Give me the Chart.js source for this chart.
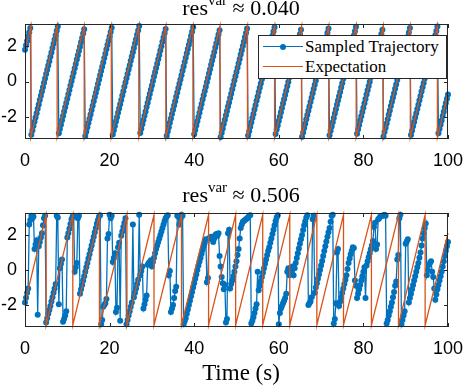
<!DOCTYPE html>
<html>
<head>
<meta charset="utf-8">
<script src="https://cdn.jsdelivr.net/npm/chart.js@4.4.1/dist/chart.umd.min.js"></script>
<style>
  body { margin: 0; background: #fff; width: 474px; height: 388px; position: relative; overflow: hidden; }
  canvas { position: absolute; left: 0; }
  .ttl { position: absolute; left: 0; width: 482px; text-align: center; font-family: "Liberation Serif", serif;
         font-size: 22px; line-height: 22px; color: #000; white-space: nowrap; }
  .ttl sup { font-size: 15px; line-height: 0; position: relative; top: -2px; }
  #xlabel { font-size: 23px; }
  #legend { position: absolute; left: 258px; top: 35px; width: 187px; height: 42px; background: #fff;
            border: 1px solid #262626; font-family: "Liberation Serif", serif; font-size: 17px; color: #000; }
  .row { position: absolute; left: 0; height: 20px; width: 100%; }
  .row span { position: absolute; left: 46px; top: 0px; line-height: 20px; white-space: nowrap; }
  .swatch { position: absolute; left: 4px; top: 9px; width: 40px; height: 1.4px; }
  .dot { position: absolute; left: 21px; top: 7px; width: 6px; height: 6px; border-radius: 50%; background: #0072BD; }
</style>
</head>
<body>
<canvas id="topChart" width="474" height="180" style="top:0"></canvas>
<canvas id="bottomChart" width="474" height="208" style="top:180px"></canvas>

<div class="ttl" style="top:-3px">res<sup>var</sup> &asymp; 0.040</div>
<div class="ttl" style="top:184px">res<sup>var</sup> &asymp; 0.506</div>
<div class="ttl" id="xlabel" style="top:362px">Time (s)</div>

<div id="legend">
  <div class="row" style="top:1px"><div class="swatch" style="background:#0072BD"></div><div class="dot"></div><span>Sampled Trajectory</span></div>
  <div class="row" style="top:21px"><div class="swatch" style="background:#D95319"></div><span>Expectation</span></div>
</div>

<script>
const xTicks = [0, 20, 40, 60, 80, 100];
const yTicks = [-2, 0, 2];
const dt = 0.25;   // sampling step of the trajectories (s)

// sampled phase, top panel (t = 0, 0.25, ... 100)
const topSampled = [
  1.80, 2.05, 2.29, 2.54, 2.78, 3.03,
  -3.01, -2.77, -2.52, -2.28, -2.03, -1.79, -1.54, -1.30, -1.05, -0.81, -0.56, -0.32, -0.07,
  0.17, 0.42, 0.66, 0.91, 1.15, 1.40, 1.64, 1.89, 2.13, 2.38, 2.62, 2.87, 3.11,
  -2.93, -2.68, -2.44, -2.19, -1.95, -1.70, -1.46, -1.21, -0.97, -0.72, -0.48, -0.23,
  0.01, 0.26, 0.50, 0.75, 0.99, 1.24, 1.48, 1.73, 1.97, 2.22, 2.46, 2.71, 2.95,
  -3.08, -2.84, -2.59, -2.35, -2.10, -1.86, -1.61, -1.37, -1.12, -0.88, -0.63, -0.39, -0.14,
  0.10, 0.35, 0.59, 0.84, 1.08, 1.33, 1.57, 1.82, 2.06, 2.31, 2.55, 2.80, 3.04,
  -3.00, -2.75, -2.51, -2.26, -2.02, -1.77, -1.53, -1.28, -1.04, -0.79, -0.55, -0.30, -0.06,
  0.19, 0.43, 0.68, 0.92, 1.17, 1.41, 1.66, 1.90, 2.15, 2.39, 2.64, 2.88, 3.13,
  -2.91, -2.67, -2.42, -2.18, -1.93, -1.69, -1.44, -1.20, -0.95, -0.71, -0.46, -0.22,
  0.03, 0.28, 0.52, 0.77, 1.01, 1.26, 1.50, 1.75, 1.99, 2.24, 2.48, 2.73, 2.97,
  -3.07, -2.82, -2.58, -2.33, -2.09, -1.84, -1.60, -1.35, -1.11, -0.86, -0.62, -0.37, -0.13,
  0.12, 0.36, 0.61, 0.85, 1.10, 1.34, 1.59, 1.83, 2.08, 2.32, 2.57, 2.81, 3.06,
  -2.98, -2.74, -2.49, -2.25, -2.00, -1.76, -1.51, -1.27, -1.02, -0.78, -0.53, -0.29, -0.04,
  0.20, 0.45, 0.69, 0.94, 1.18, 1.43, 1.67, 1.92, 2.16, 2.41, 2.65, 2.90,
  -3.14, -2.89, -2.65, -2.40, -2.16, -1.91, -1.67, -1.42, -1.18, -0.93, -0.69, -0.44, -0.20,
  0.05, 0.29, 0.54, 0.78, 1.03, 1.27, 1.52, 1.76, 2.01, 2.25, 2.50, 2.74, 2.99,
  -3.05, -2.81, -2.56, -2.32, -2.07, -1.83, -1.58, -1.34, -1.09, -0.85, -0.60, -0.36, -0.11,
  0.13, 0.38, 0.62, 0.87, 1.11, 1.36, 1.60, 1.85, 2.09, 2.34, 2.58, 2.83, 3.07,
  -2.97, -2.72, -2.48, -2.23, -1.99, -1.74, -1.50, -1.25, -1.01, -0.76, -0.52, -0.27, -0.03,
  0.22, 0.47, 0.71, 0.96, 1.20, 1.45, 1.69, 1.94, 2.18, 2.43, 2.67, 2.92,
  -3.12, -2.88, -2.63, -2.39, -2.14, -1.90, -1.65, -1.41, -1.16, -0.92, -0.67, -0.43, -0.18,
  0.06, 0.31, 0.55, 0.80, 1.04, 1.29, 1.53, 1.78, 2.02, 2.27, 2.51, 2.76, 3.00,
  -3.04, -2.79, -2.55, -2.30, -2.06, -1.81, -1.57, -1.32, -1.08, -0.83, -0.59, -0.34, -0.10,
  0.15, 0.39, 0.64, 0.88, 1.13, 1.37, 1.62, 1.86, 2.11, 2.35, 2.60, 2.84, 3.09,
  -2.95, -2.70, -2.46, -2.21, -1.97, -1.72, -1.48, -1.23, -0.99, -0.74, -0.50, -0.25, -0.01,
  0.24, 0.48, 0.73, 0.97, 1.22, 1.46, 1.71, 1.95, 2.20, 2.44, 2.69, 2.93,
  -3.11, -2.86, -2.62, -2.37, -2.13, -1.88, -1.64, -1.39, -1.15, -0.90, -0.66, -0.41, -0.17,
  0.08, 0.32, 0.57, 0.81, 1.06, 1.30, 1.55, 1.79, 2.04, 2.28, 2.53, 2.77, 3.02,
  -3.02, -2.78, -2.53, -2.29, -2.04, -1.80, -1.55, -1.31, -1.06, -0.82, -0.57, -0.33, -0.08,
  0.17, 0.41, 0.66, 0.90, 1.15, 1.39, 1.64, 1.88, 2.13, 2.37, 2.62, 2.86, 3.11,
  -2.93, -2.69, -2.44, -2.20, -1.95, -1.71, -1.46, -1.22, -0.97, -0.73
];

// sampled phase, bottom panel
const bottomSampled = [
  -1.85, -1.58, -1.30, -1.05, 2.60, 2.85, 3.10, 2.95, 3.05, 1.20,
  1.45, 1.70, -2.55, 1.35, 1.60, 1.85, 2.10, 2.55, 2.95, 3.10,
  -3.00, -2.75, -2.50, -2.28, -2.05, -1.80, -1.55, -1.30, -1.05, -0.80,
  3.10, 3.00, -1.95, 0.10, 0.35, 0.60, -2.95, -2.78, -2.60, -2.35,
  1.85, 2.10, 2.35, 2.62, 2.90, 3.05, 3.10, -0.10, 0.15, 0.40,
  2.95, 3.10, -1.35, -1.10, -0.85, -0.60, -0.35, -0.10, 0.15, 0.40,
  0.65, 0.90, 1.15, 1.40, 1.65, 1.90, 2.15, 2.40, 2.65, 2.85,
  3.05, 3.12, -3.10, -2.85, -2.10, -2.00, -1.90, -1.65, 1.80, 2.05,
  3.15, 2.95, 3.10, 0.45, 0.70, 0.95, -2.40, -2.15, 1.30, 1.55,
  -2.90, 1.95, 2.20, 2.45, 2.70, 2.95, -3.10, -2.85, -2.60, -2.35,
  -2.10, -1.85, 2.60, -1.55, -1.30, -1.05, -0.80, -0.55, 3.15, -0.30,
  -0.05, 0.20, -2.20, -1.95, -1.70, -1.45, 0.30, 0.40, 0.45, 0.55,
  0.20, 0.45, 0.70, 0.95, 1.20, 1.40, 1.60, 1.80, 2.00, 2.20,
  2.40, 2.60, 2.80, 2.95, 3.05, 3.12, -0.30, -0.05, -2.40, -2.20,
  -2.00, -1.60, -1.20, -0.95, 3.10, 3.05, 2.60, 2.90, 3.15, 3.10,
  -3.10, -2.92, -2.75, -2.50, -2.25, -2.00, -1.75, -1.50, -1.25, -1.00,
  -0.75, -0.50, -0.25, 0.00, 0.25, 0.48, 0.70, 0.92, 1.15, 1.35,
  1.55, 1.75, -0.70, -0.45, 1.80, 1.85, 1.90, 1.75, 1.60, 1.80,
  2.00, 2.05, 1.95, 2.10, 0.80, 0.20, -0.40, -0.75, -1.10, -0.85,
  -3.00, -2.80, 2.10, 2.30, -1.05, -0.80, -0.60, -0.35, -0.10, 0.20,
  0.50, 0.85, 1.20, 1.80, 2.40, 2.60, 2.75, 2.80, 2.85, 2.90,
  2.95, 3.00, 3.10, 3.12, -3.05, -2.90, -2.70, -2.45, -2.20, -1.95,
  -0.10, -1.15, -0.90, -0.65, -0.40, -0.15, 0.10, 0.35, 0.60, 0.85,
  1.10, 1.30, 1.55, 1.80, 2.05, 2.30, 2.55, 2.80, 3.00, 3.12,
  -3.10, -2.45, -2.20, -2.05, -1.90, -1.75, -1.60, -1.35, -0.10, 0.10,
  -0.30, -0.10, 0.00, 0.20, -0.30, 0.10, 0.40, 0.68, 0.95, 1.22,
  1.50, 1.75, 2.00, 2.28, 2.55, 2.78, 3.00, 3.12, -2.00, -1.90,
  -1.80, -1.55, 2.90, 3.10, -1.30, -1.00, -0.75, -0.50, -0.25, 0.00,
  0.25, 0.52, 0.80, 1.08, 1.35, 1.62, 1.90, 2.15, 2.40, 2.75,
  3.10, 3.15, -3.05, -2.80, -1.90, 1.00, 1.20, -2.05, -1.80, -1.55,
  -1.30, -1.05, -0.80, -0.55, -0.30, 0.05, 0.40, 0.65, 0.90, 1.10,
  1.30, 1.25, -0.60, -0.90, -1.60, -1.35, -1.10, -0.85, -0.60, -0.35,
  -0.10, 0.15, -1.60, 0.25, 0.50, 0.72, 0.95, 1.18, 1.40, 1.65,
  2.45, 2.70, 1.20, 1.45, 2.90, 2.95, 3.05, 3.08, 3.10, 3.12,
  3.15, 3.10, -3.05, -2.85, -2.60, -2.35, -2.10, -1.85, -1.55, -1.25,
  -0.90, -0.65, 0.60, 0.85, 2.95, 3.15, -3.10, -2.85, -2.60, -2.35,
  1.50, 1.62, 1.75, -1.85, -1.60, -1.35, -1.10, -0.85, -0.60, -0.35,
  -0.10, 0.15, 0.40, 0.70, 1.00, 1.40, 1.80, 2.10, 2.40, 2.65,
  -0.30, 0.00, 0.30, 0.40, 0.50, -0.10, -0.40, -1.05, -1.70, -1.40,
  -1.10, -0.85, -0.60, -0.35, -0.10, 0.20, 0.50, 0.80, 1.10, 1.35,
  1.60
];

// expectation: value at t=0, times where it wraps from +pi to -pi, value at t=100
const topExpStart = 1.77;
const topExpWraps = [1.4, 7.6, 14.0, 20.4, 26.9, 33.3, 39.7, 46.1, 52.6, 59.0, 65.4, 71.8, 78.3, 84.7, 91.1, 97.5];
const topExpEnd = -0.69;

const bottomExpStart = -1.87;
const bottomExpWraps = [5.0, 11.3, 17.6, 24.1, 30.5, 37.0, 43.4, 49.8, 56.2, 62.6, 69.0, 75.3, 81.9, 88.3, 94.6];
const bottomExpEnd = 2.1;

const BLUE = '#0072BD';
const ORANGE = '#D95319';
const AXIS = '#262626';

function expectationPoints(start, wraps, end) {
  const pts = [{ x: 0, y: start }];
  wraps.forEach(t => {
    pts.push({ x: t, y: Math.PI });
    pts.push({ x: t, y: -Math.PI });
  });
  pts.push({ x: 100, y: end });
  return pts;
}

// box with inward ticks on all four sides, like the matlab axes
const boxPlugin = {
  id: 'box',
  afterDatasetsDraw(chart) {
    const { ctx, chartArea: a, scales: { x, y } } = chart;
    ctx.save();
    ctx.strokeStyle = AXIS;
    ctx.lineWidth = 1;
    ctx.beginPath();
    xTicks.forEach(v => {
      const px = Math.round(x.getPixelForValue(v)) + 0.5;
      ctx.moveTo(px, a.bottom); ctx.lineTo(px, a.bottom - 4);
      ctx.moveTo(px, a.top); ctx.lineTo(px, a.top + 4);
    });
    yTicks.forEach(v => {
      const py = Math.round(y.getPixelForValue(v)) + 0.5;
      ctx.moveTo(a.left, py); ctx.lineTo(a.left + 4, py);
      ctx.moveTo(a.right, py); ctx.lineTo(a.right - 4, py);
    });
    ctx.stroke();
    ctx.strokeRect(a.left + 0.5, a.top + 0.5, a.width - 1, a.height - 1);
    ctx.restore();
  }
};

function makeChart(id, sampled, expStart, expWraps, expEnd, padTop, padBottom) {
  const ctx = document.getElementById(id).getContext('2d');
  return new Chart(ctx, {
    type: 'line',
    data: {
      datasets: [{
        label: 'Sampled Trajectory',
        data: sampled.map((v, i) => ({ x: i * dt, y: v })),
        borderColor: BLUE,
        backgroundColor: BLUE,
        borderWidth: 1.3,
        pointRadius: 3,
        pointBorderWidth: 0,
        tension: 0,
        clip: false,
        order: 2
      }, {
        label: 'Expectation',
        data: expectationPoints(expStart, expWraps, expEnd),
        borderColor: ORANGE,
        borderWidth: 1.3,
        pointRadius: 0,
        tension: 0,
        clip: false,
        order: 1
      }]
    },
    plugins: [boxPlugin],
    options: {
      responsive: false,
      animation: false,
      devicePixelRatio: 1,
      layout: { padding: { left: 0, right: 17, top: padTop, bottom: padBottom } },
      plugins: { legend: { display: false }, tooltip: { enabled: false } },
      scales: {
        x: {
          type: 'linear', min: 0, max: 100,
          afterBuildTicks: s => { s.ticks = xTicks.map(v => ({ value: v })); },
          afterFit: s => { s.height = 30; },
          grid: { display: false, drawTicks: false },
          border: { display: false },
          ticks: { padding: 11, maxRotation: 0, color: '#000', font: { family: 'Liberation Sans', size: 18 } }
        },
        y: {
          type: 'linear', min: -3.25, max: 3.25,
          afterBuildTicks: s => { s.ticks = yTicks.map(v => ({ value: v })); },
          afterFit: s => { s.width = 25; },
          grid: { display: false, drawTicks: false },
          border: { display: false },
          ticks: { padding: 8, color: '#000', font: { family: 'Liberation Sans', size: 18 } }
        }
      }
    }
  });
}

makeChart('topChart', topSampled, topExpStart, topExpWraps, topExpEnd, 24, 11);
makeChart('bottomChart', bottomSampled, bottomExpStart, bottomExpWraps, bottomExpEnd, 33, 31);
</script>
</body>
</html>
